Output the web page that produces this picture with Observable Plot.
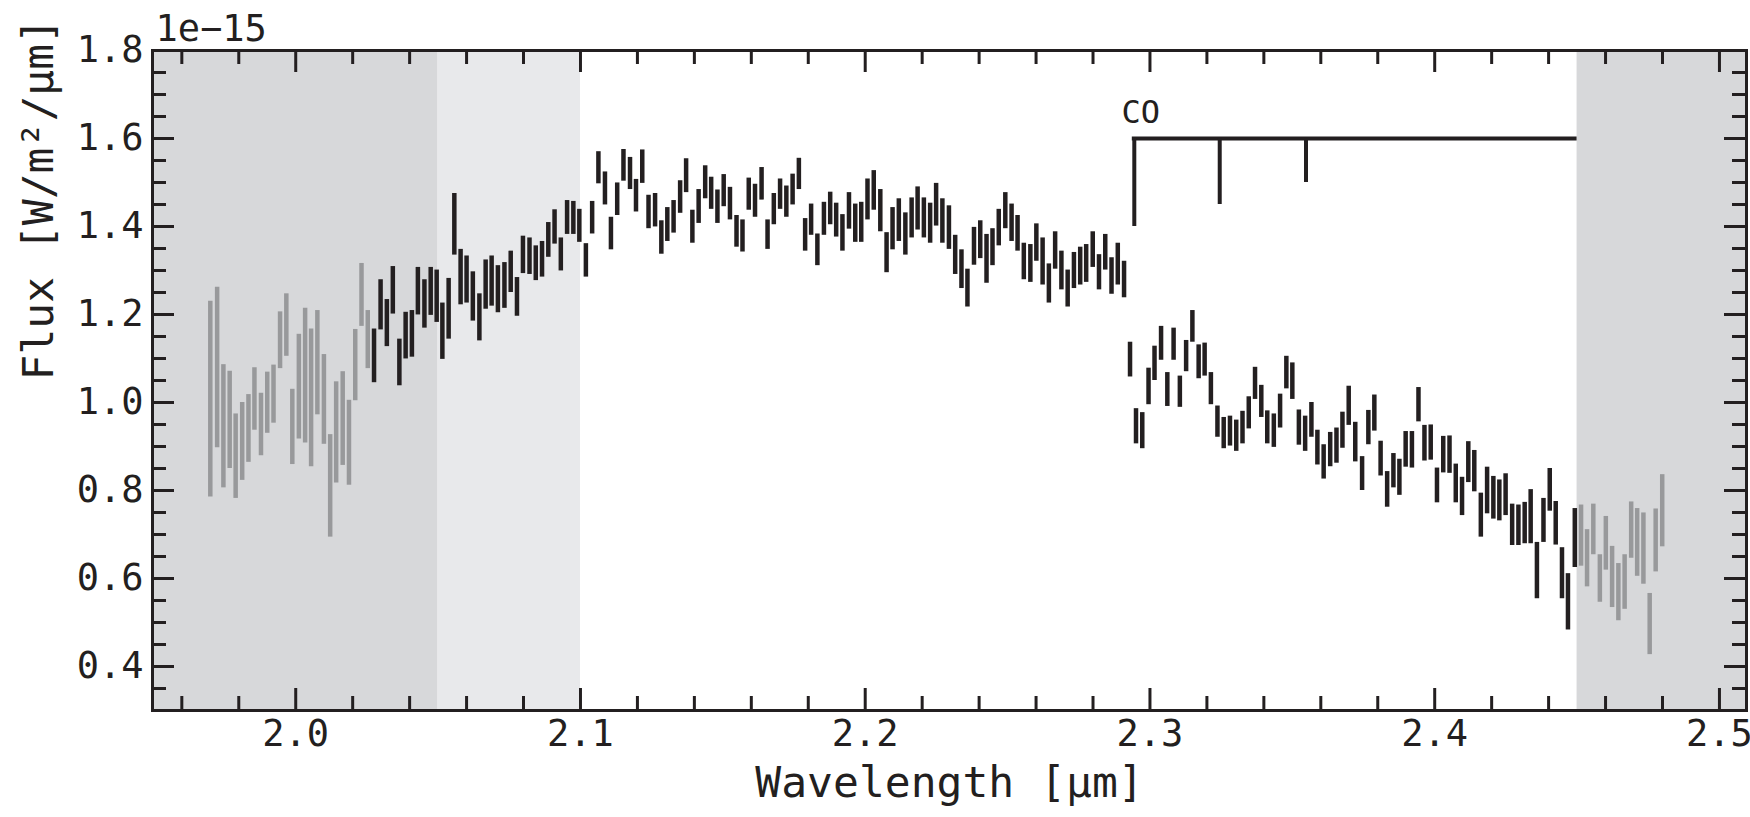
<!DOCTYPE html>
<html><head><meta charset="utf-8">
<script src="https://cdn.jsdelivr.net/npm/d3@7"></script>
<script src="https://cdn.jsdelivr.net/npm/@observablehq/plot@0.6"></script>
<style>body{margin:0;background:#fff}</style>
</head><body><div id="chart"></div>
<script>
// Wavelength [µm] of each spectral bin
const wavelength = [
1.9700,1.9724,1.9746,1.9768,1.9789,1.9812,1.9834,1.9855,1.9878,1.9900,
1.9922,1.9945,1.9967,1.9988,2.0011,2.0033,2.0054,2.0076,2.0099,2.0121,
2.0142,2.0165,2.0187,2.0209,2.0231,2.0253,2.0275,2.0298,2.0320,2.0341,
2.0364,2.0386,2.0408,2.0429,2.0452,2.0474,2.0495,2.0515,2.0537,2.0557,
2.0579,2.0600,2.0622,2.0645,2.0667,2.0688,2.0710,2.0733,2.0755,2.0777,
2.0798,2.0821,2.0843,2.0865,2.0887,2.0909,2.0931,2.0953,2.0975,2.0996,
2.1019,2.1041,2.1063,2.1086,2.1107,2.1129,2.1151,2.1174,2.1195,2.1217,
2.1239,2.1262,2.1284,2.1305,2.1327,2.1350,2.1371,2.1393,2.1415,2.1438,
2.1459,2.1481,2.1503,2.1525,2.1548,2.1569,2.1591,2.1613,2.1636,2.1657,
2.1679,2.1701,2.1723,2.1745,2.1767,2.1789,2.1810,2.1832,2.1855,2.1877,
2.1898,2.1920,2.1943,2.1965,2.1986,2.2008,2.2030,2.2053,2.2075,2.2096,
2.2118,2.2141,2.2163,2.2184,2.2206,2.2228,2.2249,2.2271,2.2294,2.2316,
2.2338,2.2359,2.2382,2.2404,2.2426,2.2447,2.2469,2.2492,2.2514,2.2535,
2.2557,2.2580,2.2601,2.2623,2.2645,2.2667,2.2689,2.2711,2.2733,2.2755,
2.2776,2.2799,2.2821,2.2843,2.2865,2.2887,2.2909,2.2930,2.2951,2.2973,
2.2995,2.3016,2.3039,2.3061,2.3083,2.3105,2.3127,2.3149,2.3171,2.3192,
2.3214,2.3237,2.3259,2.3281,2.3303,2.3325,2.3347,2.3369,2.3391,2.3412,
2.3435,2.3457,2.3479,2.3500,2.3523,2.3545,2.3567,2.3588,2.3610,2.3633,
2.3655,2.3676,2.3698,2.3721,2.3745,2.3767,2.3788,2.3810,2.3833,2.3855,
2.3876,2.3898,2.3920,2.3943,2.3964,2.3986,2.4008,2.4030,2.4052,2.4074,
2.4096,2.4118,2.4139,2.4162,2.4184,2.4206,2.4227,2.4249,2.4272,2.4294,
2.4316,2.4337,2.4359,2.4382,2.4404,2.4425,2.4447,2.4468,2.4492,2.4514,
2.4535,2.4557,2.4580,2.4601,2.4623,2.4645,2.4667,2.4690,2.4711,2.4733,
2.4755,2.4776,2.4799];

// Lower end of each error bar [1e-15 W/m²/µm]
const fluxLow = [
0.785,0.897,0.806,0.850,0.782,0.823,0.864,0.937,0.879,0.930,
0.953,1.077,1.105,0.859,0.917,0.908,0.854,0.972,0.905,0.694,
0.817,0.857,0.812,1.004,1.173,1.077,1.045,1.165,1.127,1.201,
1.038,1.099,1.103,1.199,1.169,1.198,1.182,1.098,1.144,1.335,
1.222,1.226,1.185,1.140,1.212,1.219,1.204,1.214,1.250,1.196,
1.293,1.291,1.277,1.285,1.330,1.360,1.299,1.382,1.382,1.364,
1.285,1.383,1.497,1.449,1.347,1.425,1.503,1.484,1.433,1.498,
1.395,1.399,1.337,1.366,1.385,1.430,1.477,1.362,1.407,1.463,
1.439,1.407,1.445,1.415,1.353,1.342,1.437,1.421,1.460,1.348,
1.404,1.439,1.421,1.449,1.484,1.344,1.380,1.311,1.380,1.404,
1.376,1.344,1.394,1.364,1.364,1.415,1.437,1.388,1.295,1.347,
1.366,1.335,1.374,1.392,1.374,1.362,1.401,1.362,1.348,1.291,
1.259,1.217,1.312,1.327,1.271,1.311,1.356,1.395,1.366,1.344,
1.279,1.273,1.321,1.267,1.226,1.303,1.256,1.217,1.259,1.267,
1.273,1.307,1.256,1.301,1.246,1.267,1.238,1.058,0.906,0.895,
0.995,1.050,1.096,0.991,1.096,0.989,1.070,1.137,1.054,1.060,
0.995,0.921,0.895,0.901,0.889,0.906,0.940,1.007,0.966,0.906,
0.898,0.942,1.031,1.007,0.903,0.889,0.921,0.858,0.826,0.854,
0.862,0.896,0.948,0.865,0.800,0.904,0.935,0.833,0.762,0.806,
0.789,0.853,0.851,0.956,0.867,0.869,0.772,0.840,0.839,0.772,
0.743,0.818,0.797,0.694,0.747,0.735,0.731,0.743,0.675,0.675,
0.679,0.679,0.554,0.682,0.753,0.676,0.554,0.483,0.625,0.628,
0.581,0.654,0.546,0.619,0.534,0.504,0.530,0.646,0.605,0.587,
0.427,0.615,0.672];

// Upper end of each error bar [1e-15 W/m²/µm]
const fluxHigh = [
1.230,1.262,1.086,1.071,0.974,1.000,1.018,1.079,1.021,1.069,
1.085,1.206,1.247,1.030,1.155,1.214,1.167,1.209,1.109,0.927,
1.047,1.070,1.005,1.166,1.316,1.209,1.167,1.279,1.234,1.309,
1.144,1.205,1.209,1.307,1.279,1.307,1.301,1.226,1.282,1.475,
1.348,1.333,1.297,1.247,1.324,1.333,1.311,1.318,1.344,1.284,
1.378,1.374,1.356,1.366,1.409,1.438,1.374,1.459,1.457,1.439,
1.361,1.457,1.570,1.524,1.421,1.499,1.575,1.557,1.507,1.574,
1.471,1.475,1.413,1.443,1.459,1.504,1.554,1.437,1.484,1.538,
1.512,1.483,1.518,1.489,1.425,1.415,1.510,1.496,1.534,1.415,
1.475,1.508,1.492,1.519,1.555,1.418,1.451,1.383,1.455,1.478,
1.453,1.427,1.477,1.451,1.455,1.508,1.527,1.484,1.386,1.443,
1.463,1.431,1.465,1.490,1.465,1.453,1.498,1.463,1.447,1.380,
1.347,1.303,1.398,1.413,1.382,1.395,1.439,1.477,1.451,1.425,
1.362,1.359,1.406,1.374,1.315,1.388,1.344,1.301,1.341,1.353,
1.359,1.388,1.336,1.382,1.329,1.362,1.321,1.137,0.986,0.977,
1.078,1.128,1.173,1.068,1.169,1.060,1.141,1.209,1.131,1.135,
1.068,0.992,0.966,0.969,0.960,0.980,1.013,1.080,1.039,0.981,
0.974,1.019,1.105,1.090,0.983,0.969,1.000,0.937,0.904,0.932,
0.942,0.978,1.037,0.955,0.877,0.982,1.017,0.912,0.843,0.884,
0.871,0.934,0.934,1.034,0.948,0.949,0.851,0.923,0.924,0.860,
0.830,0.911,0.891,0.794,0.853,0.832,0.824,0.838,0.769,0.767,
0.773,0.802,0.682,0.782,0.850,0.775,0.670,0.611,0.759,0.767,
0.711,0.769,0.654,0.741,0.673,0.634,0.654,0.774,0.759,0.749,
0.566,0.758,0.836];

// Wavelength limits of the usable (black) data
const goodRange = [2.0265, 2.4500];

// Shaded bands
const bandStart = [1.9497, 2.0500, 2.4500];
const bandEnd   = [2.0500, 2.1000, 2.5095];
const bandShade = ["dark", "light", "dark"];

// CO bandhead marks
const coWavelength = [2.2945, 2.3245, 2.3548];
const coBottom     = [1.40, 1.45, 1.50];
const coTop = 1.6;
const coEnd = 2.45;
const coLabel = "CO";

// Axes
const xDomain = [1.9497, 2.5095];
const yDomain = [0.3, 1.8];
const xMajor = [2.0, 2.1, 2.2, 2.3, 2.4, 2.5];
const xMinor = [1.96,1.98,2.02,2.04,2.06,2.08,2.12,2.14,2.16,2.18,2.22,2.24,2.26,2.28,2.32,2.34,2.36,2.38,2.42,2.44,2.46,2.48];
const yMajor = [0.4, 0.6, 0.8, 1.0, 1.2, 1.4, 1.6, 1.8];
const yMinor = [0.35,0.45,0.5,0.55,0.65,0.7,0.75,0.85,0.9,0.95,1.05,1.1,1.15,1.25,1.3,1.35,1.45,1.5,1.55,1.65,1.7,1.75];
const xLabel = "Wavelength [µm]";
const yLabel = "Flux [W/m²/µm]";
const offsetLabel = "1e−15";

const ink = "#231f20";
const grayBar = "#98999b";
const shadeColor = {dark: "#d7d8da", light: "#e8e9eb"};

const W = 1750, H = 817;
const mT = 50, mR = 4, mB = 107, mL = 152;
const innerW = W - mL - mR, innerH = H - mT - mB;
const majorLen = 22, minorLen = 14;

const bars = wavelength.map((w, i) => ({
  w, lo: fluxLow[i], hi: fluxHigh[i],
  good: w >= goodRange[0] && w <= goodRange[1]
}));
const bands = bandStart.map((s, i) => ({x1: s, x2: bandEnd[i], shade: bandShade[i]}));
const co = coWavelength.map((w, i) => ({w, b: coBottom[i]}));

const chart = Plot.plot({
  width: W, height: H,
  marginTop: mT, marginRight: mR, marginBottom: mB, marginLeft: mL,
  style: {fontFamily: "'DejaVu Sans Mono', monospace", fontSize: "37px", color: ink, background: "#fff", overflow: "visible"},
  x: {domain: xDomain},
  y: {domain: yDomain},
  marks: [
    Plot.rect(bands, {x1: "x1", x2: "x2", y1: () => yDomain[0], y2: () => yDomain[1], fill: d => shadeColor[d.shade]}),
    Plot.ruleX(bars, {x: "w", y1: "lo", y2: "hi", stroke: d => d.good ? ink : grayBar, strokeWidth: 4.5}),
    Plot.ruleY([coTop], {x1: coWavelength[0] - 0.0007, x2: coEnd, stroke: ink, strokeWidth: 4}),
    Plot.ruleX(co, {x: "w", y1: "b", y2: () => coTop, stroke: ink, strokeWidth: 4}),
    Plot.text([coLabel], {x: 2.290, y: 1.659, textAnchor: "start", lineAnchor: "middle", fontSize: 32, fill: ink}),
    // inward ticks
    Plot.ruleX(xMajor, {x: d => d, insetTop: innerH - majorLen, stroke: ink, strokeWidth: 3}),
    Plot.ruleX(xMajor, {x: d => d, insetBottom: innerH - majorLen, stroke: ink, strokeWidth: 3}),
    Plot.ruleX(xMinor, {x: d => d, insetTop: innerH - minorLen, stroke: ink, strokeWidth: 3}),
    Plot.ruleX(xMinor, {x: d => d, insetBottom: innerH - minorLen, stroke: ink, strokeWidth: 3}),
    Plot.ruleY(yMajor, {y: d => d, insetRight: innerW - majorLen, stroke: ink, strokeWidth: 3}),
    Plot.ruleY(yMajor, {y: d => d, insetLeft: innerW - majorLen, stroke: ink, strokeWidth: 3}),
    Plot.ruleY(yMinor, {y: d => d, insetRight: innerW - minorLen, stroke: ink, strokeWidth: 3}),
    Plot.ruleY(yMinor, {y: d => d, insetLeft: innerW - minorLen, stroke: ink, strokeWidth: 3}),
    Plot.frame({stroke: ink, strokeWidth: 3}),
    Plot.axisX(xMajor, {anchor: "bottom", tickSize: 0, tickPadding: 9, tickFormat: d3.format(".1f"), label: null, fontSize: 37}),
    Plot.axisY(yMajor, {anchor: "left", tickSize: 0, tickPadding: 9, tickFormat: d3.format(".1f"), label: null, fontSize: 37}),
    Plot.text([xLabel], {frameAnchor: "bottom", lineAnchor: "middle", dy: 73, fontSize: 43, fill: ink}),
    Plot.text([yLabel], {frameAnchor: "left", lineAnchor: "middle", rotate: -90, dx: -113, fontSize: 43, fill: ink}),
    Plot.text([offsetLabel], {frameAnchor: "top-left", lineAnchor: "middle", textAnchor: "start", dx: 3, dy: -21, fontSize: 37, fill: ink})
  ]
});
document.getElementById("chart").appendChild(chart);
</script>
</body></html>
